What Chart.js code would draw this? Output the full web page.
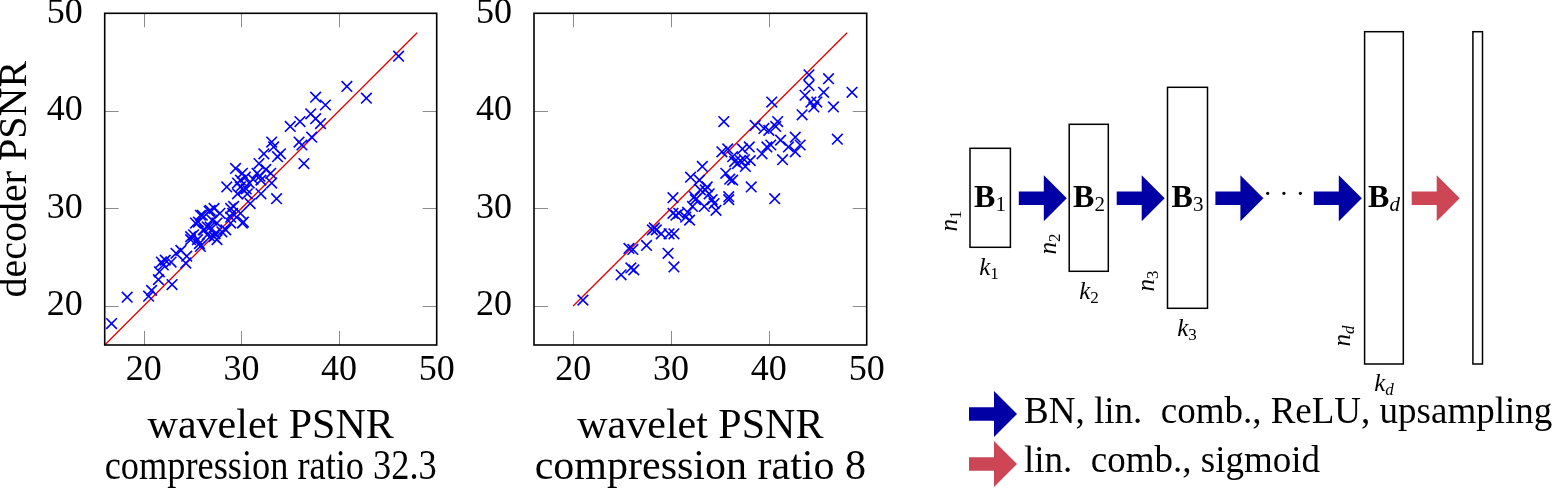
<!DOCTYPE html>
<html>
<head>
<meta charset="utf-8">
<title>decoder PSNR vs wavelet PSNR</title>
<script src="https://cdn.jsdelivr.net/npm/chart.js@4.4.0/dist/chart.umd.min.js"></script>
<style>
  html, body { margin: 0; padding: 0; background: #fff; }
  body { width: 1553px; height: 491px; position: relative; overflow: hidden; font-family: "Liberation Serif", "DejaVu Serif", serif; }
  canvas { position: absolute; top: 0; }
  #c1 { left: 0; }
  #c2 { left: 470px; }
  #net { position: absolute; left: 0; top: 0; }
  #net text { font-family: "Liberation Serif", "DejaVu Serif", serif; fill: #000; }
</style>
</head>
<body>
<canvas id="c1" width="470" height="491"></canvas>
<canvas id="c2" width="430" height="491"></canvas>
<svg id="net" width="1553" height="491" xmlns="http://www.w3.org/2000/svg">
  <g fill="none" stroke="#000" stroke-width="1.5">
    <rect x="970" y="148.3" width="40.4" height="99"></rect>
    <rect x="1069.2" y="124.3" width="39.1" height="147"></rect>
    <rect x="1167.5" y="87.3" width="40" height="221"></rect>
    <rect x="1364.6" y="31.7" width="38.7" height="332.3"></rect>
    <rect x="1472.9" y="31.7" width="9.6" height="332.3"></rect>
  </g>
  <g id="arrows"></g>

  <text x="990" y="207" text-anchor="middle" font-size="32" font-weight="bold">B<tspan font-weight="normal" font-size="21" dy="4">1</tspan></text>
  <text x="1089" y="207" text-anchor="middle" font-size="32" font-weight="bold">B<tspan font-weight="normal" font-size="21" dy="4">2</tspan></text>
  <text x="1187.5" y="207" text-anchor="middle" font-size="32" font-weight="bold">B<tspan font-weight="normal" font-size="21" dy="4">3</tspan></text>
  <text x="1384" y="207" text-anchor="middle" font-size="32" font-weight="bold">B<tspan font-weight="normal" font-style="italic" font-size="21" dy="4">d</tspan></text>

  <text x="1284" y="203" text-anchor="middle" font-size="28">· · ·</text>

  <text transform="translate(957,221) rotate(-90)" text-anchor="middle" font-size="25" font-style="italic">n<tspan font-style="normal" font-size="17" dy="4">1</tspan></text>
  <text transform="translate(1056,244) rotate(-90)" text-anchor="middle" font-size="25" font-style="italic">n<tspan font-style="normal" font-size="17" dy="4">2</tspan></text>
  <text transform="translate(1154,281) rotate(-90)" text-anchor="middle" font-size="25" font-style="italic">n<tspan font-style="normal" font-size="17" dy="4">3</tspan></text>
  <text transform="translate(1350,336) rotate(-90)" text-anchor="middle" font-size="25" font-style="italic">n<tspan font-size="17" dy="4">d</tspan></text>

  <text x="989" y="275" text-anchor="middle" font-size="25" font-style="italic">k<tspan font-style="normal" font-size="17" dy="4">1</tspan></text>
  <text x="1089" y="299" text-anchor="middle" font-size="25" font-style="italic">k<tspan font-style="normal" font-size="17" dy="4">2</tspan></text>
  <text x="1187" y="336" text-anchor="middle" font-size="25" font-style="italic">k<tspan font-style="normal" font-size="17" dy="4">3</tspan></text>
  <text x="1384" y="391" text-anchor="middle" font-size="25" font-style="italic">k<tspan font-size="17" dy="4">d</tspan></text>

  <text x="1024" y="423" font-size="37" xml:space="preserve">BN, lin.  comb., ReLU, upsampling</text>
  <text x="1024" y="472" font-size="37" xml:space="preserve">lin.  comb., sigmoid</text>
</svg>
<script>
// tick labels shared by both panels
const axisTicks = [20, 30, 40, 50];
const axisMin = 16;
const axisMax = 50;

// [wavelet PSNR, decoder PSNR], compression ratio 32.3
const ratio32Points = [
  [16.7, 18.2], [18.3, 20.9], [20.5, 21.0], [20.8, 21.6], [21.5, 22.7], [21.6, 23.5], [22.0, 24.2],
  [21.8, 24.5], [22.2, 24.7], [22.8, 24.5], [22.9, 22.2], [23.3, 25.4], [23.8, 25.7], [24.3, 24.4],
  [24.4, 25.1], [24.8, 27.1], [24.8, 26.8], [25.1, 27.3], [25.5, 26.8], [25.7, 26.4], [25.8, 26.1],
  [25.3, 28.5], [25.6, 28.6], [25.8, 29.3], [26.1, 27.8], [26.2, 27.8], [26.5, 28.1], [26.5, 27.3],
  [26.0, 29.3], [26.7, 29.7], [26.8, 29.8], [26.8, 28.1], [26.8, 27.1], [27.0, 28.8], [27.2, 30.0],
  [27.2, 27.1], [27.3, 27.4], [27.5, 28.5], [27.5, 26.8], [27.8, 29.5], [28.0, 27.6], [28.4, 27.8],
  [28.5, 32.2], [28.9, 29.1], [28.9, 30.0], [29.1, 29.5], [29.2, 30.2], [28.9, 28.5], [29.4, 34.1],
  [29.6, 31.5], [29.6, 32.6], [29.9, 32.9], [29.9, 29.5], [30.1, 33.6], [29.9, 32.2], [30.1, 28.5],
  [30.4, 33.2], [30.2, 31.9], [30.6, 31.5], [30.2, 28.6], [30.5, 32.0], [30.9, 30.5], [30.8, 32.6],
  [31.2, 33.0], [31.6, 33.6], [31.8, 34.6], [31.9, 33.3], [32.0, 32.9], [32.0, 31.5], [32.3, 35.6],
  [32.5, 34.0], [33.1, 36.8], [33.3, 36.3], [33.0, 33.6], [33.1, 32.6], [33.7, 35.3], [34.0, 35.6],
  [33.6, 31.0], [35.0, 38.4], [35.9, 36.8], [36.0, 38.9], [36.2, 36.5], [36.4, 34.6], [37.1, 39.7],
  [37.2, 37.3], [37.6, 39.2], [37.6, 41.4], [38.1, 38.7], [38.6, 40.6], [40.8, 42.5], [42.8, 41.3],
  [46.1, 45.6]
];

// [wavelet PSNR, decoder PSNR], compression ratio 8
const ratio8Points = [
  [21.0, 20.6], [24.9, 23.2], [25.7, 25.9], [26.1, 25.8], [25.9, 23.9], [26.2, 23.7], [27.5, 26.2],
  [28.1, 27.8], [28.3, 28.0], [28.5, 27.8], [29.0, 27.4], [29.7, 25.4], [30.3, 24.0], [29.8, 27.4],
  [30.3, 27.4], [30.2, 31.1], [30.2, 29.5], [30.5, 29.3], [30.8, 29.5], [31.5, 29.1], [31.7, 29.6],
  [31.9, 28.8], [32.0, 33.2], [32.4, 31.2], [32.5, 30.9], [32.2, 30.2], [32.9, 32.9], [33.2, 34.3],
  [33.0, 31.9], [33.4, 30.2], [33.5, 31.9], [33.9, 31.5], [33.7, 32.2], [34.2, 30.9], [34.6, 29.8],
  [34.4, 30.5], [35.2, 35.8], [35.4, 38.9], [35.8, 36.1], [35.6, 33.6], [35.9, 31.2], [35.9, 30.9],
  [36.0, 33.0], [36.3, 32.9], [36.3, 35.3], [36.5, 34.8], [36.8, 34.6], [37.1, 34.9], [37.3, 36.1],
  [37.5, 35.0], [37.6, 34.3], [38.0, 36.3], [38.1, 34.9], [38.2, 32.2], [38.6, 38.5], [39.3, 35.6],
  [39.5, 38.2], [39.8, 36.3], [40.2, 36.5], [40.0, 38.0], [40.3, 40.9], [40.6, 31.0], [40.7, 38.4],
  [40.9, 38.9], [41.2, 37.0], [41.4, 35.0], [42.0, 36.3], [42.7, 37.3], [42.7, 35.8], [43.2, 36.5],
  [43.4, 39.6], [43.7, 41.6], [44.1, 43.7], [44.1, 42.6], [44.3, 40.9], [44.6, 40.4], [44.9, 40.9],
  [45.6, 41.9], [46.1, 43.3], [46.6, 40.4], [47.0, 37.1], [48.5, 41.9]
];

// y = x reference lines
const ratio32Diagonal = [[16, 16], [48, 48]];
const ratio8Diagonal = [[20, 20], [48, 48]];

const ratio32Title = ["wavelet PSNR", "compression ratio 32.3"];
const ratio8Title = ["wavelet PSNR", "compression ratio 8"];
const yTitle = "decoder PSNR";

Chart.defaults.font.family = "'Liberation Serif', 'DejaVu Serif', serif";
Chart.defaults.color = "#000";

// pgfplots style box with inward ticks on every side
const framePlugin = {
    id: "frame",
    afterDatasetsDraw(chart) {
        const ctx = chart.ctx;
        const a = chart.chartArea;
        const xs = chart.scales.x;
        const ys = chart.scales.y;
        const len = 14;

        ctx.save();
        ctx.strokeStyle = "#8c8c8c";
        ctx.lineWidth = 1;
        ctx.beginPath();
        xs.ticks.forEach((t) => {
            const px = Math.round(xs.getPixelForValue(t.value)) + 0.5;
            if(px <= a.left + 2 || px >= a.right - 2) return;
            ctx.moveTo(px, a.bottom);
            ctx.lineTo(px, a.bottom - len);
            ctx.moveTo(px, a.top);
            ctx.lineTo(px, a.top + len);
        });
        ys.ticks.forEach((t) => {
            const py = Math.round(ys.getPixelForValue(t.value)) + 0.5;
            if(py <= a.top + 2 || py >= a.bottom - 2) return;
            ctx.moveTo(a.left, py);
            ctx.lineTo(a.left + len, py);
            ctx.moveTo(a.right, py);
            ctx.lineTo(a.right - len, py);
        });
        ctx.stroke();

        ctx.strokeStyle = "#000";
        ctx.lineWidth = 1.6;
        ctx.strokeRect(a.left, a.top, a.right - a.left, a.bottom - a.top);
        ctx.restore();
    }
};

function makeChart(id, points, diagonal, xTitle, showYTitle, yWidth) {
    return new Chart(document.getElementById(id), {
        type: "scatter",
        data: {
            datasets: [{
                data: points.map((p) => ({ x: p[0], y: p[1] })),
                pointStyle: "crossRot",
                pointRadius: 7.5,
                pointBorderWidth: 1.6,
                borderColor: "rgb(0,0,255)",
                backgroundColor: "rgb(0,0,255)"
            }, {
                type: "line",
                data: diagonal.map((p) => ({ x: p[0], y: p[1] })),
                borderColor: "rgb(225,0,0)",
                borderWidth: 1.3,
                pointRadius: 0,
                fill: false
            }]
        },
        options: {
            responsive: false,
            animation: false,
            devicePixelRatio: 1,
            layout: {
                padding: { top: 13.3, right: 33.3, left: 0, bottom: 0 }
            },
            plugins: {
                legend: { display: false },
                tooltip: { enabled: false }
            },
            scales: {
                x: {
                    type: "linear",
                    min: axisMin,
                    max: axisMax,
                    afterBuildTicks: (s) => { s.ticks = axisTicks.map((v) => ({ value: v })); },
                    afterFit: (s) => { s.height = 146; s.paddingLeft = 0; s.paddingRight = 0; },
                    grid: { display: false },
                    border: { display: false },
                    ticks: { color: "#000", font: { size: 36, lineHeight: 1 }, padding: 0, maxRotation: 0, autoSkip: false },
                    title: {
                        display: true,
                        text: xTitle,
                        color: "#000",
                        font: { size: 42, lineHeight: 0.98 },
                        padding: { top: 0, bottom: 2.5 }
                    }
                },
                y: {
                    type: "linear",
                    min: axisMin,
                    max: axisMax,
                    afterBuildTicks: (s) => { s.ticks = axisTicks.map((v) => ({ value: v })); },
                    afterFit: (s) => { s.width = yWidth; s.paddingTop = 0; s.paddingBottom = 0; },
                    grid: { display: false },
                    border: { display: false },
                    ticks: { color: "#000", font: { size: 36 }, padding: 14, autoSkip: false },
                    title: {
                        display: showYTitle,
                        text: yTitle,
                        color: "#000",
                        font: { size: 40, lineHeight: 0.75 },
                        padding: { top: 0, bottom: 0 }
                    }
                }
            }
        },
        plugins: [framePlugin]
    });
}

makeChart("c1", ratio32Points, ratio32Diagonal, ratio32Title, true, 104.7);
makeChart("c2", ratio8Points, ratio8Diagonal, ratio8Title, false, 64);

// block arrows of the decoder sketch
const blueArrowStarts = [1018.8, 1116.7, 1215.4, 1313.8];
const redArrowStarts = [1411.7];
const arrowY = 198.3;

function arrowPath(x0, cy) {
    const pts = [
        [x0, cy - 6.7], [x0 + 25, cy - 6.7], [x0 + 25, cy - 23], [x0 + 48, cy],
        [x0 + 25, cy + 23], [x0 + 25, cy + 6.7], [x0, cy + 6.7]
    ];
    return pts.map((p) => p[0] + "," + p[1]).join(" ");
}

const arrowGroup = document.getElementById("arrows");
function addArrow(x0, cy, color) {
    const poly = document.createElementNS("http://www.w3.org/2000/svg", "polygon");
    poly.setAttribute("points", arrowPath(x0, cy));
    poly.setAttribute("fill", color);
    arrowGroup.appendChild(poly);
}

blueArrowStarts.forEach((x) => addArrow(x, arrowY, "rgb(0,0,165)"));
redArrowStarts.forEach((x) => addArrow(x, arrowY, "rgb(205,70,85)"));
// legend keys
addArrow(969, 414, "rgb(0,0,165)");
addArrow(969, 464, "rgb(205,70,85)");
</script>
</body>
</html>
